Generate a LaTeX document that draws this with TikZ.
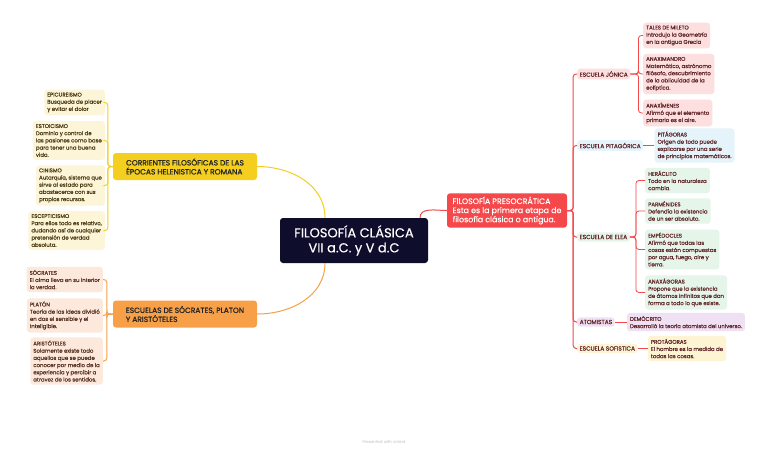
\documentclass[tikz,border=0pt]{standalone}
\usepackage{fontspec}
\setmainfont{Poppins}
\newfontfamily\popmed[FakeBold=0.4]{Poppins}
\newfontfamily\popsemi[FakeBold=1.1]{Poppins}
\usetikzlibrary{positioning}
\definecolor{navy}{HTML}{0E0D2C}
\definecolor{cyellow}{HTML}{F4CF1F}
\definecolor{corange}{HTML}{F7A047}
\definecolor{cred}{HTML}{F5484A}
\definecolor{pyellow}{HTML}{FDF5D8}
\definecolor{porange}{HTML}{FDE9DC}
\definecolor{pred}{HTML}{FDDFDF}
\definecolor{pblue}{HTML}{E5F4FB}
\definecolor{pgreen}{HTML}{E6F5E9}
\definecolor{ppurple}{HTML}{EFE1F3}
\definecolor{psand}{HTML}{FDF4D4}
\definecolor{tyellow}{HTML}{4A3B14}
\definecolor{torange}{HTML}{553020}
\definecolor{tred}{HTML}{5E2427}
\tikzstyle{central} = [rectangle, fill=navy, text=white, rounded corners=3pt, minimum width=148pt, minimum height=45pt, align=center, font=\popmed\fontsize{13}{15}\selectfont]
\tikzstyle{mainbox} = [rectangle, rounded corners=3pt, minimum width=144pt, minimum height=27pt, align=left, text=black!85, font=\popsemi\fontsize{7.5}{9}\selectfont]
\tikzstyle{redbox} = [rectangle, fill=cred, text=white, rounded corners=3pt, minimum width=120pt, minimum height=31pt, align=left, font=\popmed\fontsize{7.9}{9.1}\selectfont]
\tikzstyle{leaf} = [rectangle, rounded corners=3pt, inner sep=3pt, align=left, font=\popmed\fontsize{5.4}{7.2}\selectfont]
\tikzstyle{school} = [rectangle, rounded corners=3pt, inner sep=2.5pt, text=tred, font=\popmed\fontsize{5.9}{7}\selectfont]
\tikzstyle{yline} = [draw=cyellow, line width=1pt]
\tikzstyle{oline} = [draw=corange, line width=1pt]
\tikzstyle{rline} = [draw=cred, line width=1pt]

\begin{document}
\begin{tikzpicture}[x=1pt, y=1pt]
        \useasboundingbox [fill=white] (0,0) rectangle (768,-455);

        % Nodes
        \node [central] (root) at (354,-240.5) {FILOSOFÍA CLÁSICA\\VII a.C. y V d.C};
        \node [mainbox, fill=cyellow] (helen) at (185,-166.5) {CORRIENTES FILOSÓFICAS DE LAS\\ÉPOCAS HELENISTICA Y ROMANA};
        \node [mainbox, fill=corange] (escsoc) at (185,-314) {ESCUELAS DE SÓCRATES, PLATON\\Y ARISTÓTELES};
        \node [redbox] (preso) at (507,-210.5) {FILOSOFÍA PRESOCRÁTICA\\Esta es la primera etapa de\\filosofía clásica o antigua.};

        % helenistica y romana
        \node [leaf, fill=pyellow, text=tyellow, anchor=east] (epicur) at (105,-102.5) {EPICUREISMO\\Busqueda de placer\\y evitar el dolor};
        \node [leaf, fill=pyellow, text=tyellow, anchor=east] (estoic) at (105,-140.5) {ESTOICISMO\\Dominio y control de\\las pasiones como base\\para tener una buena\\vida.};
        \node [leaf, fill=pyellow, text=tyellow, anchor=east] (cinis) at (105,-185.5) {CINISMO\\Autarquía, sistema que\\sirve al estado para\\abastecerce con sus\\propios recursos.};
        \node [leaf, fill=pyellow, text=tyellow, anchor=east] (escep) at (105,-230.5) {ESCEPTICISMO\\Para ellos todo es relativo,\\dudando así de cualquier\\pretensión de verdad\\absoluta.};

        % socrates, platon, aristoteles
        \node [leaf, fill=porange, text=torange, anchor=east] (socr) at (103,-279.5) {SÓCRATES\\El alma lleva en su interior\\la verdad.};
        \node [leaf, fill=porange, text=torange, anchor=east] (plat) at (103,-315.5) {PLATÓN\\Teoría de las ideas dividió\\en dos el sensible y el\\inteligible.};
        \node [leaf, fill=porange, text=torange, anchor=east] (arist) at (103,-361) {ARISTÓTELES\\Solamente existe todo\\aquellos que se puede\\conocer por medio de la\\experiencia y percibir a\\atravez de los sentidos.};

        % escuelas presocraticas
        \node [school, fill=pred, anchor=west] (jonica) at (577,-74) {ESCUELA JÓNICA};
        \node [school, fill=pblue, anchor=west] (pitag) at (577,-145.5) {ESCUELA PITAGÓRICA};
        \node [school, fill=pgreen, anchor=west] (elea) at (577,-237) {ESCUELA DE ELEA};
        \node [school, fill=ppurple, anchor=west] (atom) at (577,-322) {ATOMISTAS};
        \node [school, fill=psand, anchor=west] (sofis) at (577,-348.5) {ESCUELA SOFISTICA};

        \node [leaf, fill=pred, text=tred, anchor=west] (tales) at (643,-35.5) {TALES DE MILETO\\Introdujo la Geometría\\en la antigua Grecia};
        \node [leaf, fill=pred, text=tred, anchor=west] (anaximan) at (643,-74) {ANAXIMANDRO\\Matemático, astrónomo\\filósofo, descubrimiento\\de la oblicuidad de la\\eclíptica.};
        \node [leaf, fill=pred, text=tred, anchor=west] (anaximen) at (643,-113) {ANAXÍMENES\\Afirmó que el elemento\\primario es el aire.};
        \node [leaf, fill=pblue, text=tred, right=11pt of pitag] (pitagoras) {PITÁGORAS\\Origen de todo puede\\explicarse por una serie\\de principios matemáticos.};
        \node [leaf, fill=pgreen, text=tred, anchor=west] (heracl) at (645,-180.5) {HERÁCLITO\\Todo en la naturaleza\\cambia.};
        \node [leaf, fill=pgreen, text=tred, anchor=west] (parmen) at (645,-211) {PARMÉNIDES\\Defendía la existencia\\de un ser absoluto.};
        \node [leaf, fill=pgreen, text=tred, anchor=west] (empedo) at (645,-249.5) {EMPÉDOCLES\\Afirmó que todas las\\cosas están compuestas\\por agua, fuego, aire y\\tierra.};
        \node [leaf, fill=pgreen, text=tred, anchor=west] (anaxag) at (645,-292.5) {ANAXÁGORAS\\Propone que la existencia\\de átomos infinitos que dan\\forma a todo lo que existe.};
        \node [leaf, fill=ppurple, text=tred, right=12pt of atom] (democ) {DEMÓCRITO\\Desarrolló la teoría atomista del universo.};
        \node [leaf, fill=psand, text=tred, right=10pt of sofis] (protag) {PROTÁGORAS\\El hombre es la medida de\\todas las cosas.};

        \node [text=black!25, font=\fontsize{4}{5}\selectfont] (footer) at (384,-442) {Presented with xmind};

        % Edges
        \path [yline] (helen.east) to[out=0, in=90] ([xshift=-29pt]root.north);
        \path [oline] (escsoc.east) to[out=0, in=-90] ([xshift=-29pt]root.south);
        \path [rline] ([xshift=66pt]root.north) to[out=90, in=180] (preso.west);

        \path [yline, rounded corners=3pt] (helen.west) -- ++(-5,0) |- (epicur.east);
        \path [yline, rounded corners=3pt] (helen.west) -- ++(-5,0) |- (estoic.east);
        \path [yline, rounded corners=3pt] (helen.west) -- ++(-5,0) |- (cinis.east);
        \path [yline, rounded corners=3pt] (helen.west) -- ++(-5,0) |- (escep.east);

        \path [oline, rounded corners=3pt] (escsoc.west) -- ++(-6,0) |- (socr.east);
        \path [oline, rounded corners=3pt] (escsoc.west) -- ++(-6,0) |- (plat.east);
        \path [oline, rounded corners=3pt] (escsoc.west) -- ++(-6,0) |- (arist.east);

        \path [rline, rounded corners=3pt] (preso.east) -- ++(6,0) |- (jonica.west);
        \path [rline, rounded corners=3pt] (preso.east) -- ++(6,0) |- (pitag.west);
        \path [rline, rounded corners=3pt] (preso.east) -- ++(6,0) |- (elea.west);
        \path [rline, rounded corners=3pt] (preso.east) -- ++(6,0) |- (atom.west);
        \path [rline, rounded corners=3pt] (preso.east) -- ++(6,0) |- (sofis.west);

        \path [rline, line width=0.8pt, rounded corners=3pt] (jonica.east) -- ++(8,0) |- (tales.west);
        \path [rline, line width=0.8pt, rounded corners=3pt] (jonica.east) -- ++(8,0) |- (anaximan.west);
        \path [rline, line width=0.8pt, rounded corners=3pt] (jonica.east) -- ++(8,0) |- (anaximen.west);
        \path [rline, line width=0.8pt] (pitag) -- (pitagoras);
        \path [rline, line width=0.8pt, rounded corners=3pt] (elea.east) -- ++(6,0) |- (heracl.west);
        \path [rline, line width=0.8pt, rounded corners=3pt] (elea.east) -- ++(6,0) |- (parmen.west);
        \path [rline, line width=0.8pt, rounded corners=3pt] (elea.east) -- ++(6,0) |- (empedo.west);
        \path [rline, line width=0.8pt, rounded corners=3pt] (elea.east) -- ++(6,0) |- (anaxag.west);
        \path [rline, line width=0.8pt] (atom) -- (democ);
        \path [rline, line width=0.8pt] (sofis) -- (protag);
    \end{tikzpicture}
\end{document}
